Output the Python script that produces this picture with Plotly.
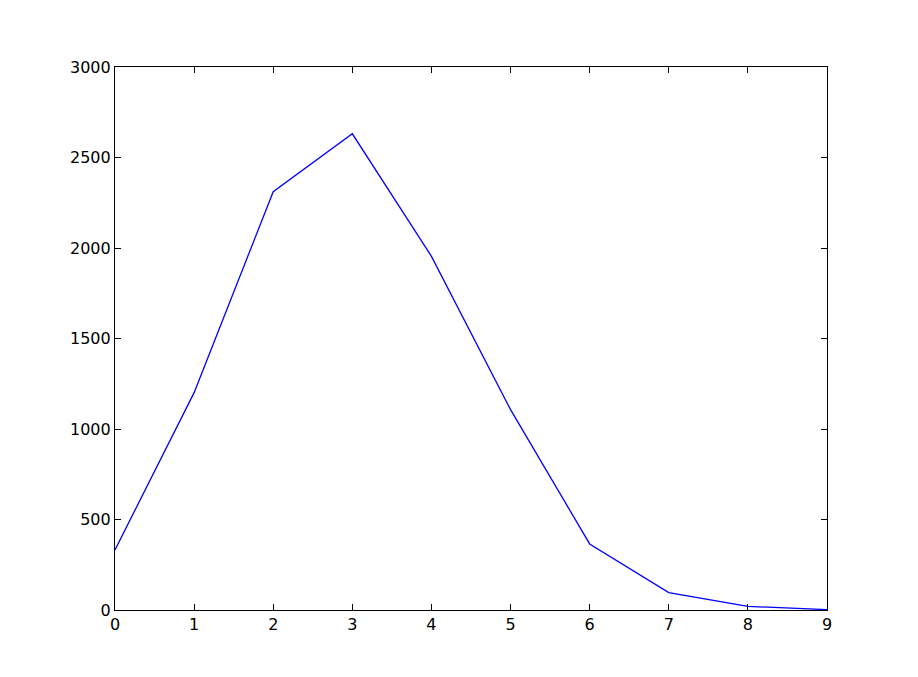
import plotly.graph_objects as go

x_vals = [0, 1, 2, 3, 4, 5, 6, 7, 8, 9]
y_vals = [332, 1201, 2311, 2631, 1954, 1107, 365, 96, 20, 2]

fig = go.Figure(
    go.Scatter(
        x=x_vals,
        y=y_vals,
        mode="lines",
        line=dict(color="#0000ff", width=1.3),
        hoverinfo="x+y",
    )
)

axis_style = dict(
    showline=True,
    linecolor="black",
    linewidth=1.2,
    mirror="ticks",
    ticks="inside",
    ticklen=6,
    tickwidth=1,
    tickcolor="black",
    showgrid=False,
    zeroline=False,
    tickfont=dict(family="DejaVu Sans", size=16, color="black"),
)

# page renders with an 8px body offset, so margins are trimmed to match
fig.update_layout(
    width=918,
    height=677,
    margin=dict(l=107, r=99, t=59, b=75),
    paper_bgcolor="white",
    plot_bgcolor="white",
    showlegend=False,
)
fig.update_xaxes(range=[0, 9], dtick=1, **axis_style)
fig.update_yaxes(range=[0, 3000], dtick=500, **axis_style)

fig.write_html("out.html")
